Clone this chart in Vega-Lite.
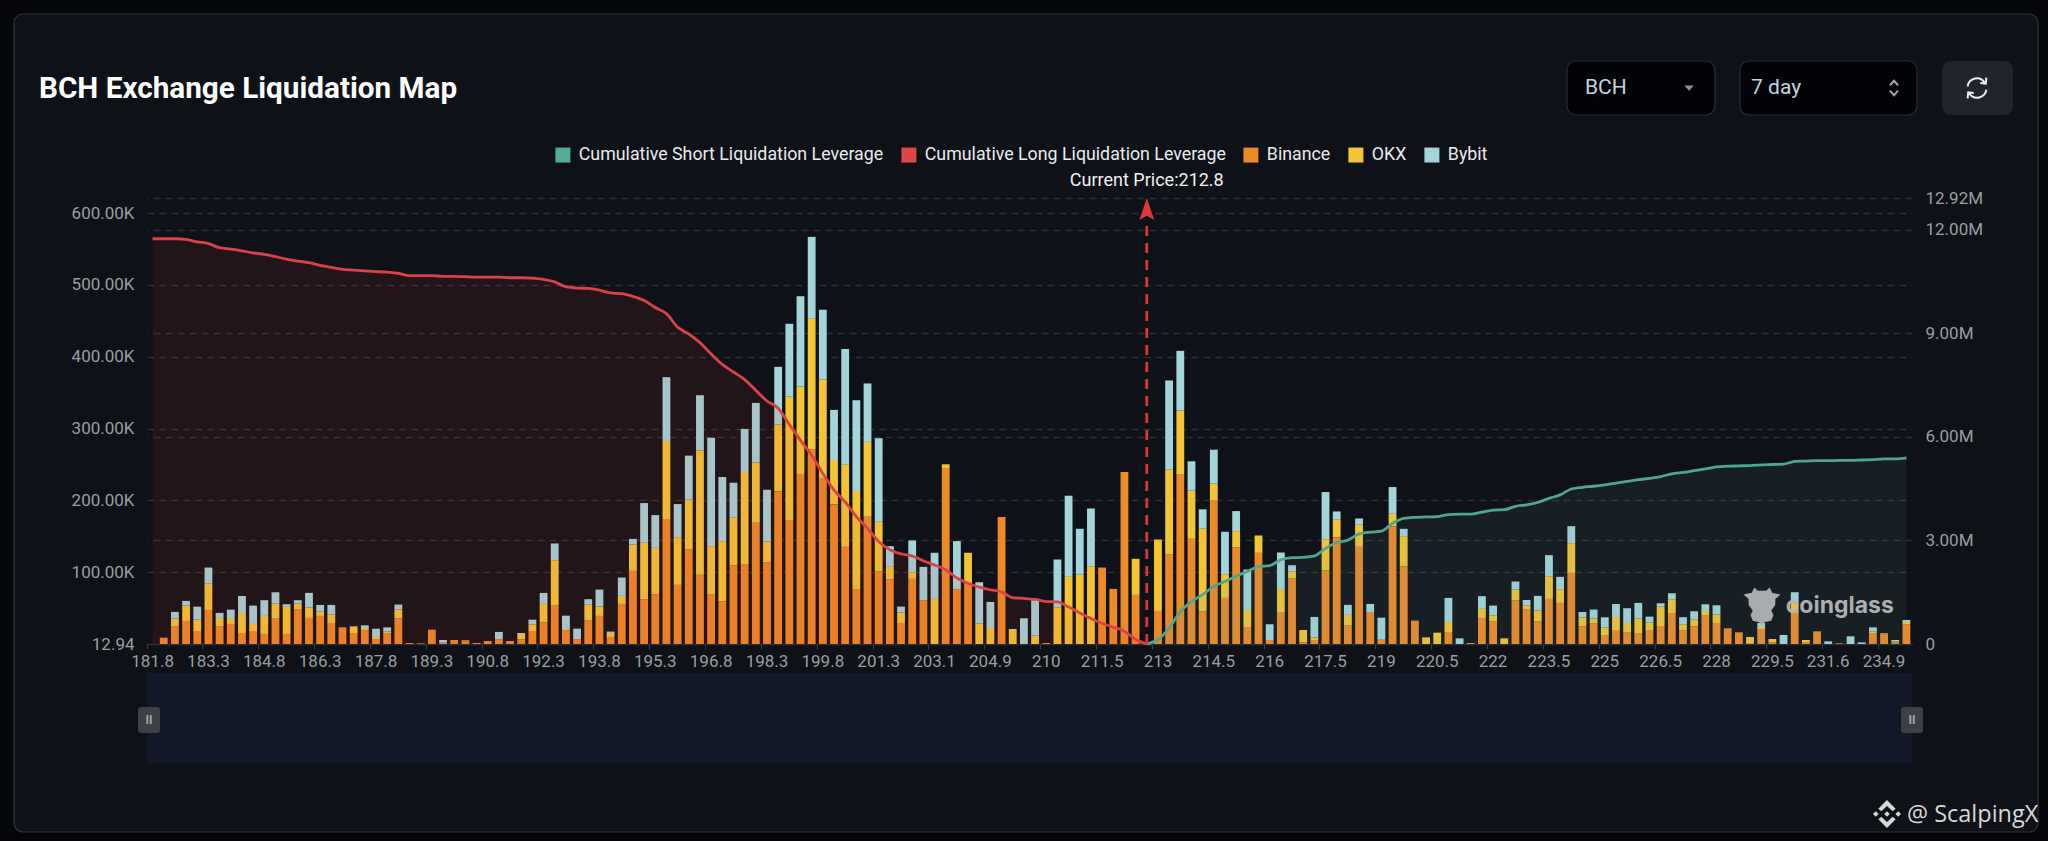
{
  "$schema": "https://vega.github.io/schema/vega-lite/v6.json",
  "width": 1765,
  "height": 446,
  "autosize": "none",
  "padding": {"left": 147, "top": 198, "right": 136, "bottom": 197},
  "background": "#0e1117",
  "datasets": {
    "stackOrder": [{"exchange": "Binance", "rank": 0}, {"exchange": "OKX", "rank": 1}, {"exchange": "Bybit", "rank": 2}],
    "liq": [
      {"price":181.8,"Binance":0,"OKX":0,"Bybit":0,"long":11740000},
      {"price":182.1,"Binance":8800,"OKX":0,"Bybit":0,"long":11740000},
      {"price":182.4,"Binance":24200,"OKX":11200,"Bybit":9300,"long":11740000},
      {"price":182.7,"Binance":32100,"OKX":21400,"Bybit":6500,"long":11720000},
      {"price":183,"Binance":18100,"OKX":15800,"Bybit":18100,"long":11650000},
      {"price":183.3,"Binance":47400,"OKX":37200,"Bybit":21900,"long":11600000},
      {"price":183.6,"Binance":24200,"OKX":12100,"Bybit":7000,"long":11480000},
      {"price":183.9,"Binance":27900,"OKX":7000,"Bybit":13000,"long":11440000},
      {"price":184.2,"Binance":15300,"OKX":27900,"Bybit":23700,"long":11390000},
      {"price":184.5,"Binance":18100,"OKX":9800,"Bybit":25600,"long":11330000},
      {"price":184.8,"Binance":14000,"OKX":25100,"Bybit":21900,"long":11290000},
      {"price":185.1,"Binance":35300,"OKX":21400,"Bybit":15300,"long":11220000},
      {"price":185.4,"Binance":14000,"OKX":37700,"Bybit":3700,"long":11150000},
      {"price":185.7,"Binance":47900,"OKX":8400,"Bybit":4700,"long":11090000},
      {"price":186,"Binance":36300,"OKX":14400,"Bybit":20500,"long":11050000},
      {"price":186.3,"Binance":39100,"OKX":6000,"Bybit":9300,"long":10970000},
      {"price":186.6,"Binance":29300,"OKX":11600,"Bybit":13500,"long":10910000},
      {"price":186.9,"Binance":22800,"OKX":500,"Bybit":0,"long":10850000},
      {"price":187.2,"Binance":15300,"OKX":9300,"Bybit":0,"long":10830000},
      {"price":187.5,"Binance":18600,"OKX":3700,"Bybit":3700,"long":10810000},
      {"price":187.8,"Binance":6000,"OKX":3700,"Bybit":11600,"long":10790000},
      {"price":188.1,"Binance":14400,"OKX":2800,"Bybit":6000,"long":10770000},
      {"price":188.4,"Binance":35800,"OKX":12100,"Bybit":7000,"long":10740000},
      {"price":188.7,"Binance":1400,"OKX":0,"Bybit":0,"long":10670000},
      {"price":189,"Binance":900,"OKX":0,"Bybit":0,"long":10670000},
      {"price":189.3,"Binance":20000,"OKX":0,"Bybit":0,"long":10670000},
      {"price":189.6,"Binance":1900,"OKX":0,"Bybit":3700,"long":10650000},
      {"price":189.9,"Binance":5600,"OKX":0,"Bybit":0,"long":10650000},
      {"price":190.2,"Binance":3700,"OKX":1400,"Bybit":0,"long":10640000},
      {"price":190.5,"Binance":1400,"OKX":0,"Bybit":0,"long":10630000},
      {"price":190.8,"Binance":4200,"OKX":0,"Bybit":0,"long":10630000},
      {"price":191.1,"Binance":6500,"OKX":500,"Bybit":9800,"long":10630000},
      {"price":191.4,"Binance":4200,"OKX":0,"Bybit":0,"long":10610000},
      {"price":191.7,"Binance":6500,"OKX":7400,"Bybit":1400,"long":10610000},
      {"price":192,"Binance":18100,"OKX":9300,"Bybit":6500,"long":10600000},
      {"price":192.3,"Binance":30200,"OKX":25600,"Bybit":15300,"long":10560000},
      {"price":192.6,"Binance":53500,"OKX":63200,"Bybit":23300,"long":10490000},
      {"price":192.9,"Binance":18600,"OKX":2300,"Bybit":18600,"long":10350000},
      {"price":193.2,"Binance":6500,"OKX":500,"Bybit":14400,"long":10310000},
      {"price":193.5,"Binance":32600,"OKX":22800,"Bybit":7000,"long":10300000},
      {"price":193.8,"Binance":39100,"OKX":13000,"Bybit":23700,"long":10250000},
      {"price":194.1,"Binance":9800,"OKX":5600,"Bybit":1900,"long":10170000},
      {"price":194.4,"Binance":55800,"OKX":11200,"Bybit":25600,"long":10150000},
      {"price":194.7,"Binance":101800,"OKX":36700,"Bybit":7900,"long":10070000},
      {"price":195,"Binance":62300,"OKX":78600,"Bybit":55300,"long":9950000},
      {"price":195.3,"Binance":69300,"OKX":64600,"Bybit":45600,"long":9750000},
      {"price":195.6,"Binance":173000,"OKX":109700,"Bybit":88800,"long":9570000},
      {"price":195.9,"Binance":82300,"OKX":66500,"Bybit":46000,"long":9180000},
      {"price":196.2,"Binance":131600,"OKX":69800,"Bybit":60900,"long":8980000},
      {"price":196.5,"Binance":96300,"OKX":173400,"Bybit":76700,"long":8730000},
      {"price":196.8,"Binance":68800,"OKX":67400,"Bybit":151100,"long":8400000},
      {"price":197.1,"Binance":59500,"OKX":83700,"Bybit":89300,"long":8100000},
      {"price":197.4,"Binance":109300,"OKX":66500,"Bybit":48800,"long":7880000},
      {"price":197.7,"Binance":110200,"OKX":129300,"Bybit":60000,"long":7660000},
      {"price":198,"Binance":168800,"OKX":83700,"Bybit":83200,"long":7350000},
      {"price":198.3,"Binance":113900,"OKX":28800,"Bybit":72100,"long":7040000},
      {"price":198.6,"Binance":212500,"OKX":93500,"Bybit":80000,"long":6830000},
      {"price":198.9,"Binance":172500,"OKX":172000,"Bybit":101400,"long":6360000},
      {"price":199.2,"Binance":235800,"OKX":122800,"Bybit":125600,"long":5900000},
      {"price":199.5,"Binance":271100,"OKX":182300,"Bybit":113500,"long":5470000},
      {"price":199.8,"Binance":230200,"OKX":138600,"Bybit":96700,"long":4940000},
      {"price":200.1,"Binance":194400,"OKX":61800,"Bybit":69800,"long":4460000},
      {"price":200.4,"Binance":135300,"OKX":114400,"Bybit":160900,"long":4120000},
      {"price":200.7,"Binance":76700,"OKX":136200,"Bybit":126500,"long":3690000},
      {"price":201,"Binance":177200,"OKX":104200,"Bybit":81400,"long":3350000},
      {"price":201.3,"Binance":100900,"OKX":69300,"Bybit":116300,"long":2970000},
      {"price":201.6,"Binance":89700,"OKX":17700,"Bybit":28800,"long":2730000},
      {"price":201.9,"Binance":29300,"OKX":14400,"Bybit":8400,"long":2610000},
      {"price":202.2,"Binance":90700,"OKX":9300,"Bybit":44200,"long":2550000},
      {"price":202.5,"Binance":60900,"OKX":0,"Bybit":46500,"long":2410000},
      {"price":203.1,"Binance":0,"OKX":62800,"Bybit":64200,"long":2290000},
      {"price":203.4,"Binance":245100,"OKX":5100,"Bybit":0,"long":2150000},
      {"price":203.7,"Binance":76300,"OKX":0,"Bybit":67000,"long":1910000},
      {"price":204,"Binance":85100,"OKX":41900,"Bybit":0,"long":1760000},
      {"price":204.3,"Binance":0,"OKX":28800,"Bybit":57200,"long":1650000},
      {"price":204.9,"Binance":0,"OKX":22300,"Bybit":36300,"long":1570000},
      {"price":205.2,"Binance":176700,"OKX":0,"Bybit":0,"long":1510000},
      {"price":206.1,"Binance":0,"OKX":20900,"Bybit":0,"long":1340000},
      {"price":207,"Binance":0,"OKX":0,"Bybit":35800,"long":1320000},
      {"price":208.2,"Binance":0,"OKX":11600,"Bybit":49300,"long":1290000},
      {"price":210,"Binance":1400,"OKX":0,"Bybit":0,"long":1230000},
      {"price":210.3,"Binance":0,"OKX":51200,"Bybit":66500,"long":1220000},
      {"price":210.6,"Binance":0,"OKX":93500,"Bybit":113000,"long":1070000},
      {"price":210.9,"Binance":0,"OKX":96700,"Bybit":63700,"long":900000},
      {"price":211.2,"Binance":0,"OKX":108300,"Bybit":80400,"long":740000},
      {"price":211.5,"Binance":106500,"OKX":0,"Bybit":0,"long":600000},
      {"price":211.8,"Binance":76700,"OKX":0,"Bybit":0,"long":490000},
      {"price":212.1,"Binance":239500,"OKX":0,"Bybit":0,"long":370000},
      {"price":212.4,"Binance":68400,"OKX":50200,"Bybit":0,"long":130000},
      {"price":212.7,"Binance":0,"OKX":0,"Bybit":0,"long":0,"short":0},
      {"price":213,"Binance":46000,"OKX":99500,"Bybit":0,"short":130000},
      {"price":213.3,"Binance":124600,"OKX":118600,"Bybit":123700,"short":460000},
      {"price":213.6,"Binance":236200,"OKX":88800,"Bybit":83200,"short":940000},
      {"price":213.9,"Binance":146500,"OKX":67000,"Bybit":40900,"short":1230000},
      {"price":214.2,"Binance":45600,"OKX":114900,"Bybit":27000,"short":1430000},
      {"price":214.5,"Binance":200400,"OKX":22800,"Bybit":47400,"short":1670000},
      {"price":214.8,"Binance":64200,"OKX":33000,"Bybit":59100,"short":1810000},
      {"price":215.1,"Binance":134400,"OKX":22800,"Bybit":27900,"short":1970000},
      {"price":215.4,"Binance":23700,"OKX":23700,"Bybit":56300,"short":2100000},
      {"price":215.7,"Binance":126900,"OKX":24200,"Bybit":0,"short":2240000},
      {"price":216,"Binance":5600,"OKX":0,"Bybit":21900,"short":2270000},
      {"price":216.3,"Binance":44600,"OKX":32100,"Bybit":50700,"short":2440000},
      {"price":216.6,"Binance":91100,"OKX":10200,"Bybit":8400,"short":2500000},
      {"price":216.9,"Binance":2300,"OKX":17200,"Bybit":0,"short":2510000},
      {"price":217.2,"Binance":5600,"OKX":3300,"Bybit":28800,"short":2550000},
      {"price":217.5,"Binance":102300,"OKX":43700,"Bybit":65600,"short":2770000},
      {"price":217.8,"Binance":148800,"OKX":24200,"Bybit":11600,"short":2940000},
      {"price":218.1,"Binance":25600,"OKX":14900,"Bybit":14000,"short":3010000},
      {"price":218.4,"Binance":135300,"OKX":30700,"Bybit":8800,"short":3190000},
      {"price":218.7,"Binance":44600,"OKX":0,"Bybit":11200,"short":3240000},
      {"price":219,"Binance":6000,"OKX":0,"Bybit":30700,"short":3270000},
      {"price":219.3,"Binance":164100,"OKX":17200,"Bybit":37200,"short":3500000},
      {"price":219.6,"Binance":107900,"OKX":42300,"Bybit":10200,"short":3640000},
      {"price":219.9,"Binance":32600,"OKX":0,"Bybit":0,"short":3670000},
      {"price":220.2,"Binance":0,"OKX":9300,"Bybit":0,"short":3680000},
      {"price":220.5,"Binance":0,"OKX":15800,"Bybit":0,"short":3690000},
      {"price":220.8,"Binance":16700,"OKX":14000,"Bybit":33500,"short":3750000},
      {"price":221.1,"Binance":0,"OKX":0,"Bybit":7900,"short":3760000},
      {"price":221.4,"Binance":1400,"OKX":0,"Bybit":0,"short":3760000},
      {"price":221.7,"Binance":36300,"OKX":12600,"Bybit":17700,"short":3820000},
      {"price":222,"Binance":31200,"OKX":8800,"Bybit":13500,"short":3880000},
      {"price":222.3,"Binance":0,"OKX":7900,"Bybit":0,"short":3890000},
      {"price":222.6,"Binance":60900,"OKX":14900,"Bybit":11200,"short":3990000},
      {"price":222.9,"Binance":47900,"OKX":6000,"Bybit":7400,"short":4030000},
      {"price":223.2,"Binance":31200,"OKX":15300,"Bybit":20500,"short":4100000},
      {"price":223.5,"Binance":62800,"OKX":31600,"Bybit":29300,"short":4220000},
      {"price":223.8,"Binance":57200,"OKX":19100,"Bybit":17200,"short":4320000},
      {"price":224.1,"Binance":99000,"OKX":41400,"Bybit":23700,"short":4490000},
      {"price":224.4,"Binance":24600,"OKX":12600,"Bybit":7400,"short":4540000},
      {"price":224.7,"Binance":28400,"OKX":7000,"Bybit":12600,"short":4570000},
      {"price":225,"Binance":11600,"OKX":11200,"Bybit":14400,"short":4610000},
      {"price":225.3,"Binance":19500,"OKX":18100,"Bybit":18100,"short":4660000},
      {"price":225.6,"Binance":15800,"OKX":13500,"Bybit":20500,"short":4710000},
      {"price":225.9,"Binance":14400,"OKX":20900,"Bybit":21900,"short":4760000},
      {"price":226.2,"Binance":19500,"OKX":10700,"Bybit":7900,"short":4800000},
      {"price":226.5,"Binance":25100,"OKX":27400,"Bybit":4200,"short":4850000},
      {"price":226.8,"Binance":43200,"OKX":19100,"Bybit":8400,"short":4930000},
      {"price":227.1,"Binance":19100,"OKX":8400,"Bybit":9800,"short":4970000},
      {"price":227.4,"Binance":24600,"OKX":9800,"Bybit":11200,"short":5020000},
      {"price":227.7,"Binance":39500,"OKX":6500,"Bybit":9300,"short":5070000},
      {"price":228,"Binance":29300,"OKX":11600,"Bybit":13000,"short":5130000},
      {"price":228.3,"Binance":21900,"OKX":0,"Bybit":0,"short":5150000},
      {"price":228.6,"Binance":16300,"OKX":0,"Bybit":0,"short":5160000},
      {"price":228.9,"Binance":1400,"OKX":8400,"Bybit":0,"short":5170000},
      {"price":229.2,"Binance":20900,"OKX":2800,"Bybit":5600,"short":5190000},
      {"price":229.5,"Binance":2300,"OKX":4700,"Bybit":0,"short":5200000},
      {"price":229.8,"Binance":0,"OKX":0,"Bybit":12600,"short":5210000},
      {"price":230.1,"Binance":43200,"OKX":14000,"Bybit":14900,"short":5290000},
      {"price":230.4,"Binance":2800,"OKX":2800,"Bybit":0,"short":5300000},
      {"price":230.7,"Binance":17700,"OKX":0,"Bybit":0,"short":5310000},
      {"price":231.6,"Binance":0,"OKX":0,"Bybit":3700,"short":5310000},
      {"price":232.2,"Binance":900,"OKX":0,"Bybit":0,"short":5320000},
      {"price":232.8,"Binance":0,"OKX":0,"Bybit":10700,"short":5320000},
      {"price":233.4,"Binance":0,"OKX":0,"Bybit":2300,"short":5330000},
      {"price":234.3,"Binance":15300,"OKX":1900,"Bybit":6000,"short":5340000},
      {"price":234.9,"Binance":13500,"OKX":1400,"Bybit":0,"short":5360000},
      {"price":235.2,"Binance":2300,"OKX":1400,"Bybit":1900,"short":5360000},
      {"price":235.5,"Binance":27000,"OKX":3700,"Bybit":2800,"short":5390000}
    ]
  },
  "data": {"name": "liq"},
  "resolve": {"scale": {"y": "independent"}, "axis": {"y": "independent"}},
  "config": {
    "view": {"stroke": null},
    "axis": {"labelFont": "Roboto", "labelFontSize": 17, "labelColor": "#9c9ea1", "gridColor": "#2b2f35", "gridDash": [7, 5], "gridWidth": 1.3}
  },
  "layer": [
    {
      "layer": [
        {
          "transform": [
            {"fold": ["Binance", "OKX", "Bybit"], "as": ["exchange", "amount"]},
            {"lookup": "exchange", "from": {"data": {"name": "stackOrder"}, "key": "exchange", "fields": ["rank"]}}
          ],
          "mark": {"type": "bar", "width": {"band": 0.7}},
          "encoding": {
            "x": {
              "field": "price", "type": "ordinal", "title": null,
              "scale": {"type": "band", "paddingInner": 0, "paddingOuter": 0},
              "axis": {
                "values": [181.8, 183.3, 184.8, 186.3, 187.8, 189.3, 190.8, 192.3, 193.8, 195.3, 196.8, 198.3, 199.8, 201.3, 203.1, 204.9, 210, 211.5, 213, 214.5, 216, 217.5, 219, 220.5, 222, 223.5, 225, 226.5, 228, 229.5, 231.6, 234.9],
                "labelAngle": 0, "labelOverlap": false, "bandPosition": 0, "labelOffset": 0, "labelPadding": 4,
                "tickColor": "#3a3e44", "tickSize": 5, "domainColor": "#2b2f35", "grid": false
              }
            },
            "y": {
              "field": "amount", "type": "quantitative", "title": null, "stack": "zero",
              "scale": {"domain": [12.94, 621000], "nice": false, "zero": false},
              "axis": {
                "orient": "left", "values": [12.94, 100000, 200000, 300000, 400000, 500000, 600000],
                "labelExpr": "datum.value < 1000 ? '12.94' : format(datum.value / 1000, '.2f') + 'K'",
                "domain": false, "ticks": false, "grid": true, "labelPadding": 13
              }
            },
            "color": {
              "field": "exchange", "type": "nominal",
              "scale": {
                "domain": ["Cumulative Short Liquidation Leverage", "Cumulative Long Liquidation Leverage", "Binance", "OKX", "Bybit"],
                "range": ["#52ab94", "#dc4749", "#ec8a28", "#f3c535", "#a3d4da"]
              },
              "legend": {
                "title": null, "orient": "none", "legendX": 407, "legendY": -52, "direction": "horizontal", "columns": 5,
                "symbolType": "square", "symbolSize": 225, "symbolOpacity": 1, "labelFont": "Roboto", "labelFontSize": 17.8, "labelColor": "#e8eaec", "labelLimit": 400, "columnPadding": 16, "labelOffset": 7
              }
            },
            "order": {"field": "rank", "type": "ordinal"}
          }
        }
      ]
    },
    {
      "layer": [
        {
          "transform": [{"filter": {"field": "long", "valid": true}}],
          "mark": {"type": "area", "interpolate": "monotone", "color": "#dc3c3c", "opacity": 0.1},
          "encoding": {
            "x": {"field": "price", "type": "ordinal"},
            "y": {
              "field": "long", "type": "quantitative", "title": null,
              "scale": {"domain": [0, 12920000], "nice": false},
              "axis": {
                "orient": "right", "values": [0, 3000000, 6000000, 9000000, 12000000, 12920000],
                "labelExpr": "datum.value == 0 ? '0' : format(datum.value / 1000000, '.2f') + 'M'",
                "domain": false, "ticks": false, "grid": true, "labelPadding": 13
              }
            }
          }
        },
        {
          "transform": [{"filter": {"field": "short", "valid": true}}],
          "mark": {"type": "area", "interpolate": "monotone", "color": "#689d99", "opacity": 0.1},
          "encoding": {
            "x": {"field": "price", "type": "ordinal"},
            "y": {"field": "short", "type": "quantitative"}
          }
        },
        {
          "transform": [{"filter": {"field": "long", "valid": true}}],
          "mark": {"type": "line", "interpolate": "monotone", "color": "#dc4149", "strokeWidth": 2.8},
          "encoding": {
            "x": {"field": "price", "type": "ordinal"},
            "y": {"field": "long", "type": "quantitative"}
          }
        },
        {
          "transform": [{"filter": {"field": "short", "valid": true}}],
          "mark": {"type": "line", "interpolate": "monotone", "color": "#4fa58e", "strokeWidth": 2.8},
          "encoding": {
            "x": {"field": "price", "type": "ordinal"},
            "y": {"field": "short", "type": "quantitative"}
          }
        },
        {
          "data": {"values": [{"price": 212.7, "from": 0, "to": 12282856}]},
          "mark": {"type": "rule", "color": "#d9353b", "strokeWidth": 2.8, "strokeDash": [10, 7]},
          "encoding": {
            "x": {"field": "price", "type": "ordinal"},
            "y": {"field": "from", "type": "quantitative"},
            "y2": {"field": "to"}
          }
        },
        {
          "data": {"values": [{"price": 212.7, "tip": 12601515}]},
          "mark": {"type": "point", "filled": true, "opacity": 1, "color": "#dc3a38", "size": 484, "shape": "M0,-1 L0.68,1 L0,0.62 L-0.68,1 Z"},
          "encoding": {
            "x": {"field": "price", "type": "ordinal"},
            "y": {"field": "tip", "type": "quantitative"}
          }
        },
        {
          "data": {"values": [{"label": "Current Price:212.8"}]},
          "mark": {"type": "text", "font": "Roboto", "fontSize": 18, "color": "#f0f0f0"},
          "encoding": {
            "x": {"datum": 212.7, "type": "ordinal"},
            "y": {"datum": 13412647, "type": "quantitative"},
            "text": {"field": "label"}
          }
        },
        {
          "data": {"values": [{}]},
          "mark": {"type": "rect", "color": "#121829"},
          "encoding": {
            "x": {"datum": 181.8, "type": "ordinal", "bandPosition": 0},
            "x2": {"datum": 235.5, "bandPosition": 1},
            "y": {"datum": -840101, "type": "quantitative"},
            "y2": {"datum": -3447311}
          }
        },
        {
          "data": {"values": [{"side": 181.8}]},
          "mark": {"type": "point", "filled": true, "opacity": 1, "color": "#3c4047", "size": 676, "shape": "M-0.6,-1 L0.6,-1 Q0.85,-1 0.85,-0.75 L0.85,0.75 Q0.85,1 0.6,1 L-0.6,1 Q-0.85,1 -0.85,0.75 L-0.85,-0.75 Q-0.85,-1 -0.6,-1 Z"},
          "encoding": {
            "x": {"field": "side", "type": "ordinal", "bandPosition": 0.18},
            "y": {"datum": -2201644, "type": "quantitative"}
          }
        },
        {
          "data": {"values": [{"side": 235.5}]},
          "mark": {"type": "point", "filled": true, "opacity": 1, "color": "#3c4047", "size": 676, "shape": "M-0.6,-1 L0.6,-1 Q0.85,-1 0.85,-0.75 L0.85,0.75 Q0.85,1 0.6,1 L-0.6,1 Q-0.85,1 -0.85,0.75 L-0.85,-0.75 Q-0.85,-1 -0.6,-1 Z"},
          "encoding": {
            "x": {"field": "side", "type": "ordinal", "bandPosition": 1},
            "y": {"datum": -2201644, "type": "quantitative"}
          }
        },
        {
          "data": {"values": [{"label": "II", "side": 181.8}]},
          "mark": {"type": "text", "font": "Roboto", "fontSize": 12, "fontWeight": "bold", "color": "#a2a5aa"},
          "encoding": {
            "x": {"field": "side", "type": "ordinal", "bandPosition": 0.18},
            "y": {"datum": -2201644, "type": "quantitative"},
            "text": {"field": "label"}
          }
        },
        {
          "data": {"values": [{"label": "II", "side": 235.5}]},
          "mark": {"type": "text", "font": "Roboto", "fontSize": 12, "fontWeight": "bold", "color": "#a2a5aa"},
          "encoding": {
            "x": {"field": "side", "type": "ordinal", "bandPosition": 1},
            "y": {"datum": -2201644, "type": "quantitative"},
            "text": {"field": "label"}
          }
        },
        {
          "data": {"values": [{}]},
          "mark": {"type": "rect", "color": "#020308", "stroke": "#2a2d33", "strokeWidth": 1.2, "cornerRadius": 9},
          "encoding": {
            "x": {"datum": 224.1, "type": "ordinal", "bandPosition": 0.11},
            "x2": {"datum": 228, "bandPosition": 0.36},
            "y": {"datum": 16888927, "type": "quantitative"},
            "y2": {"datum": 15324601}
          }
        },
        {
          "data": {"values": [{}]},
          "mark": {"type": "rect", "color": "#020308", "stroke": "#2a2d33", "strokeWidth": 1.2, "cornerRadius": 9},
          "encoding": {
            "x": {"datum": 228.6, "type": "ordinal", "bandPosition": 0.6},
            "x2": {"datum": 235.5, "bandPosition": 1.45},
            "y": {"datum": 16888927, "type": "quantitative"},
            "y2": {"datum": 15324601}
          }
        },
        {
          "data": {"values": [{}]},
          "mark": {"type": "rect", "color": "#21252b", "cornerRadius": 9},
          "encoding": {
            "x": {"datum": 235.5, "type": "ordinal", "bandPosition": 3.69},
            "x2": {"datum": 235.5, "bandPosition": 10.04},
            "y": {"datum": 16888927, "type": "quantitative"},
            "y2": {"datum": 15324601}
          }
        },
        {
          "data": {"values": [{"label": "BCH"}]},
          "mark": {"type": "text", "align": "left", "font": "Roboto", "fontSize": 21, "color": "#c6d3dc"},
          "encoding": {
            "x": {"datum": 224.4, "type": "ordinal", "bandPosition": 0.73},
            "y": {"datum": 16106764, "type": "quantitative"},
            "text": {"field": "label"}
          }
        },
        {
          "data": {"values": [{"label": "7 day"}]},
          "mark": {"type": "text", "align": "left", "font": "Roboto", "fontSize": 21, "color": "#c6d3dc"},
          "encoding": {
            "x": {"datum": 228.9, "type": "ordinal", "bandPosition": 0.59},
            "y": {"datum": 16106764, "type": "quantitative"},
            "text": {"field": "label"}
          }
        },
        {
          "data": {"values": [{}]},
          "mark": {"type": "point", "filled": true, "opacity": 1, "color": "#8f9194", "size": 90, "shape": "M-1,-0.5 L1,-0.5 L0,0.6 Z"},
          "encoding": {
            "x": {"datum": 227.4, "type": "ordinal", "bandPosition": 0.04},
            "y": {"datum": 16106764, "type": "quantitative"}
          }
        },
        {
          "data": {"values": [{}]},
          "mark": {"type": "point", "filled": false, "opacity": 1, "color": "#a5a7aa", "strokeWidth": 2, "size": 324, "shape": "M-0.45,-0.3 L0,-0.8 L0.45,-0.3 M-0.45,0.3 L0,0.8 L0.45,0.3"},
          "encoding": {
            "x": {"datum": 235.2, "type": "ordinal", "bandPosition": 0.39},
            "y": {"datum": 16106764, "type": "quantitative"}
          }
        },
        {
          "data": {"values": [{}]},
          "mark": {"type": "point", "filled": false, "opacity": 1, "color": "#eceef0", "strokeWidth": 2, "size": 484, "shape": "M-0.85,-0.15 A0.85,0.85 0 0 1 0.7,-0.5 M0.85,-0.95 L0.8,-0.4 L0.3,-0.45 M0.85,0.15 A0.85,0.85 0 0 1 -0.7,0.5 M-0.85,0.95 L-0.8,0.4 L-0.3,0.45"},
          "encoding": {
            "x": {"datum": 235.5, "type": "ordinal", "bandPosition": 6.82},
            "y": {"datum": 16106764, "type": "quantitative"}
          }
        },
        {
          "data": {"values": [{}]},
          "mark": {"type": "point", "filled": true, "opacity": 1, "color": "#a9acae", "size": 1369, "shape": "M-1,-0.62 L-0.55,-0.72 L-0.42,-1 L-0.22,-0.82 L0.22,-0.82 L0.42,-1 L0.55,-0.72 L1,-0.62 L0.72,-0.38 L0.72,-0.05 L0.5,0.25 L0.62,0.5 L0.5,0.8 L0.12,0.88 L0.1,1 L-0.1,1 L-0.15,0.88 L-0.5,0.8 L-0.62,0.5 L-0.5,0.25 L-0.72,-0.05 L-0.72,-0.38 Z"},
          "encoding": {
            "x": {"datum": 229.2, "type": "ordinal", "bandPosition": 0.57},
            "y": {"datum": 1100822, "type": "quantitative"}
          }
        },
        {
          "data": {"values": [{"label": "coinglass"}]},
          "mark": {"type": "text", "align": "left", "font": "Inter", "fontSize": 23, "fontWeight": "bold", "color": "#b4b6b8", "opacity": 0.95},
          "encoding": {
            "x": {"datum": 229.8, "type": "ordinal", "bandPosition": 0.7},
            "y": {"datum": 1100822, "type": "quantitative"},
            "text": {"field": "label"}
          }
        },
        {
          "data": {"values": [{}]},
          "mark": {"type": "rect", "fill": null, "stroke": "#05060a", "strokeWidth": 28, "cornerRadius": 22},
          "encoding": {
            "x": {"datum": 181.8, "type": "ordinal", "bandPosition": -13.16},
            "x2": {"datum": 235.5, "bandPosition": 13.53},
            "y": {"datum": 18656036, "type": "quantitative"},
            "y2": {"datum": -5851738}
          }
        },
        {
          "data": {"values": [{}]},
          "mark": {"type": "rect", "fill": null, "stroke": "#30333a", "strokeWidth": 1.2, "cornerRadius": 9},
          "encoding": {
            "x": {"datum": 181.8, "type": "ordinal", "bandPosition": -11.9},
            "x2": {"datum": 235.5, "bandPosition": 12.28},
            "y": {"datum": 18250470, "type": "quantitative"},
            "y2": {"datum": -5446172}
          }
        },
        {
          "data": {"values": [{"label": "BCH Exchange Liquidation Map"}]},
          "mark": {"type": "text", "align": "left", "font": "Roboto", "fontSize": 29.7, "fontWeight": "bold", "color": "#ffffff"},
          "encoding": {
            "x": {"datum": 181.8, "type": "ordinal", "bandPosition": -9.67},
            "y": {"datum": 16077795, "type": "quantitative"},
            "text": {"field": "label"}
          }
        },
        {
          "data": {"values": [{}]},
          "mark": {"type": "point", "filled": true, "opacity": 1, "color": "#d6d6d6", "size": 784, "shape": "M0,-0.2 L0.2,0 L0,0.2 L-0.2,0 Z M-1,0 L-0.8,-0.2 L-0.6,0 L-0.8,0.2 Z M1,0 L0.8,-0.2 L0.6,0 L0.8,0.2 Z M0,-1 L0.62,-0.38 L0.4,-0.2 L0,-0.58 L-0.4,-0.2 L-0.62,-0.38 Z M0,1 L0.62,0.38 L0.4,0.2 L0,0.58 L-0.4,0.2 L-0.62,0.38 Z"},
          "encoding": {
            "x": {"datum": 234.9, "type": "ordinal", "bandPosition": 0.76},
            "y": {"datum": -4924730, "type": "quantitative"}
          }
        },
        {
          "data": {"values": [{"label": "@ ScalpingX"}]},
          "mark": {"type": "text", "align": "left", "font": "Open Sans", "fontSize": 23.5, "color": "#d8d8d8"},
          "encoding": {
            "x": {"datum": 235.5, "type": "ordinal", "bandPosition": 0.55},
            "y": {"datum": -4953699, "type": "quantitative"},
            "text": {"field": "label"}
          }
        }
      ]
    }
  ]
}
